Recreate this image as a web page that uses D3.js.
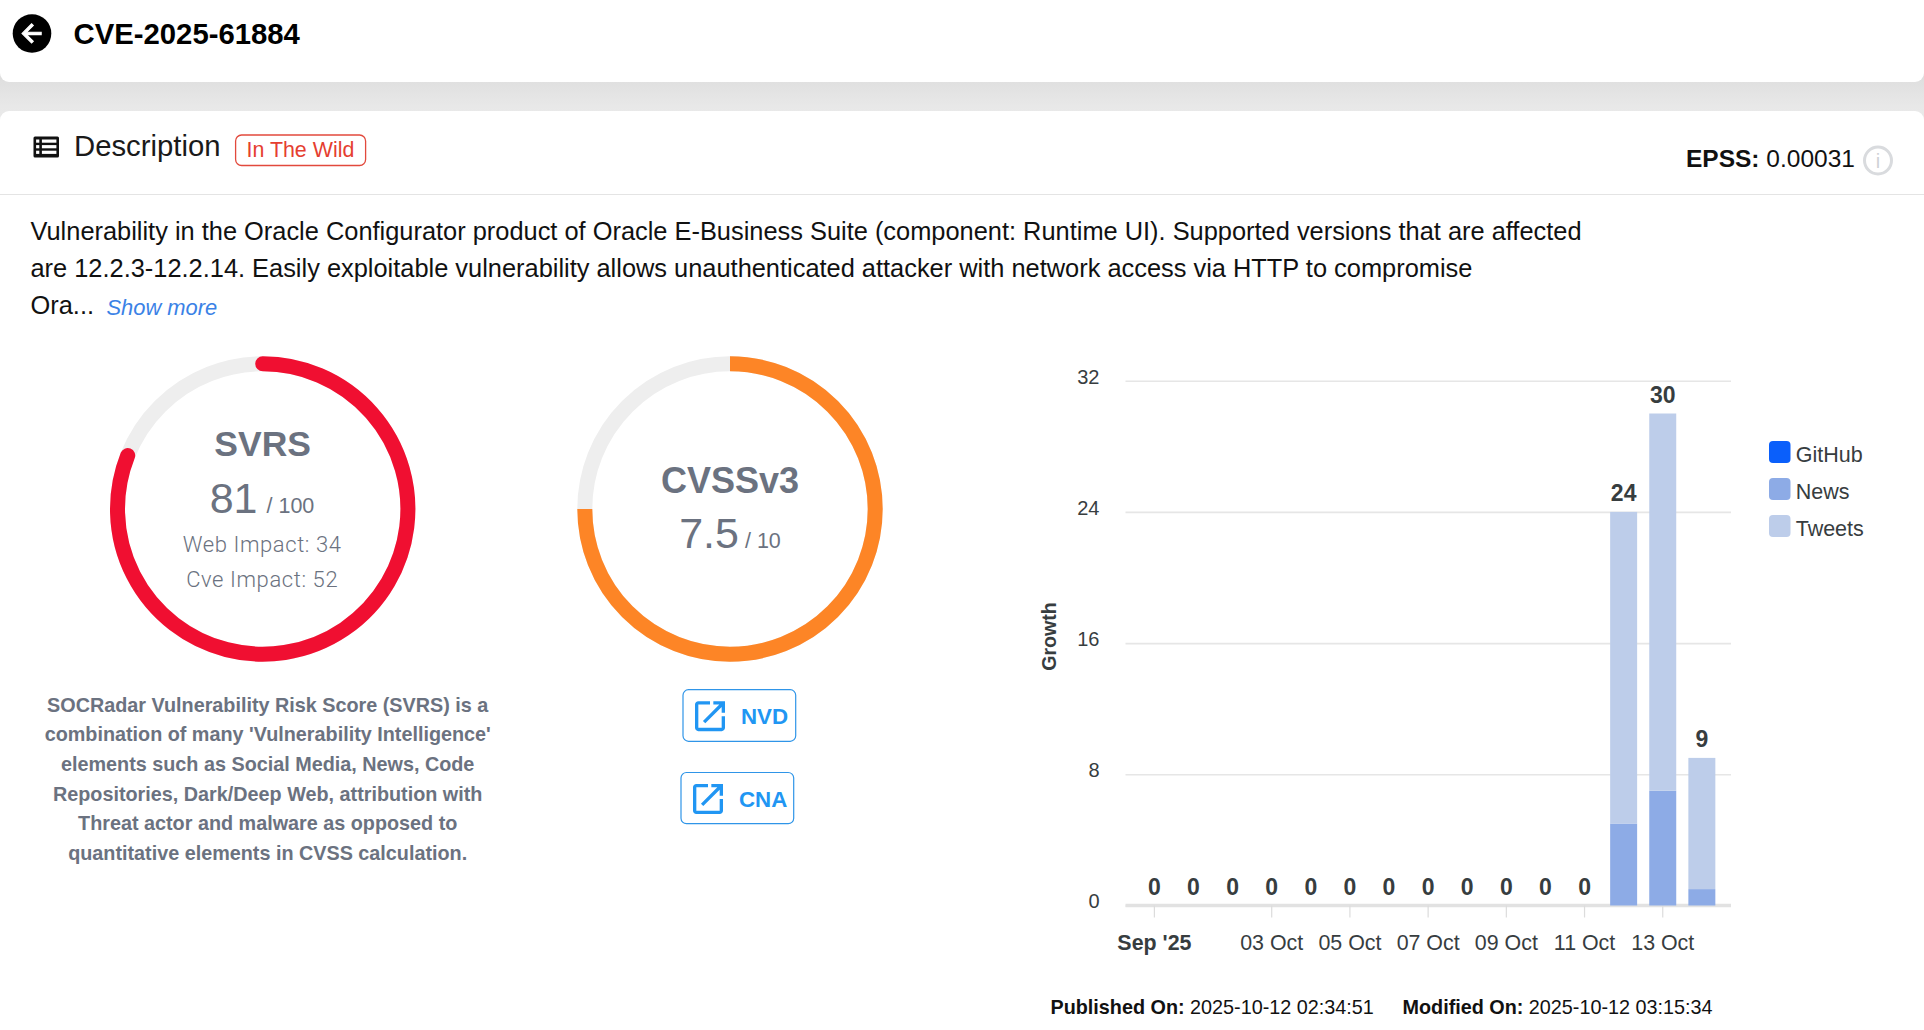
<!DOCTYPE html>
<html lang="en">
<head>
<meta charset="utf-8">
<title>CVE-2025-61884</title>
<script src="https://d3js.org/d3.v7.min.js"></script>
<style>
    body { margin: 0; background: #fff; }
    svg { display: block; font-family: "Liberation Sans", Arial, sans-serif; }
    .axis-y path { display: none; }
    .axis-y line { stroke: #e6e6e6; stroke-width: 1.6; }
    .axis-y text { font-size: 20px; fill: #373d3f; }
    .axis-x path { stroke: #e2e2e2; stroke-width: 3.4; }
    .axis-x line { stroke: #dcdcdc; stroke-width: 1.2; }
    .axis-x text { font-size: 21.4px; fill: #373d3f; }
</style>
</head>
<body>
<svg id="page" width="1924" height="1030"></svg>
<script>
    // chart values
    const categories = ["Sep '25", "01 Oct", "02 Oct", "03 Oct", "04 Oct", "05 Oct", "06 Oct", "07 Oct",
        "08 Oct", "09 Oct", "10 Oct", "11 Oct", "12 Oct", "13 Oct", "14 Oct"];
    const tickLabels = ["Sep '25", "03 Oct", "05 Oct", "07 Oct", "09 Oct", "11 Oct", "13 Oct"];
    const seriesNames = ["GitHub", "News", "Tweets"];
    const seriesColors = ["#0a5ffb", "#8dabe6", "#bdcdea"];
    const githubValues = [0, 0, 0, 0, 0, 0, 0, 0, 0, 0, 0, 0, 0, 0, 0];
    const newsValues = [0, 0, 0, 0, 0, 0, 0, 0, 0, 0, 0, 0, 5, 7, 1];
    const tweetsValues = [0, 0, 0, 0, 0, 0, 0, 0, 0, 0, 0, 0, 19, 23, 8];
    const yTicks = [0, 8, 16, 24, 32];

    // gauges
    const svrsScore = 81, svrsMax = 100, webImpact = 34, cveImpact = 52;
    const cvssScore = 7.5, cvssMax = 10;

    // texts
    const descriptionLines = [
        "Vulnerability in the Oracle Configurator product of Oracle E-Business Suite (component: Runtime UI). Supported versions that are affected",
        "are 12.2.3-12.2.14. Easily exploitable vulnerability allows unauthenticated attacker with network access via HTTP to compromise",
        "Ora..."
    ];
    const svrsNote = [
        "SOCRadar Vulnerability Risk Score (SVRS) is a",
        "combination of many 'Vulnerability Intelligence'",
        "elements such as Social Media, News, Code",
        "Repositories, Dark/Deep Web, attribution with",
        "Threat actor and malware as opposed to",
        "quantitative elements in CVSS calculation."
    ];

    const svg = d3.select("#page");
    const grey = "#6b7280";

    // page frame
    let grad = svg.append("defs").append("linearGradient")
        .attr("id", "band").attr("x1", 0).attr("x2", 0).attr("y1", 0).attr("y2", 1);
    grad.append("stop").attr("offset", 0).attr("stop-color", "#dcdcdc");
    grad.append("stop").attr("offset", 0.6).attr("stop-color", "#e8e8e8");
    grad.append("stop").attr("offset", 1).attr("stop-color", "#ebebeb");

    svg.append("rect").attr("y", 70).attr("width", 1924).attr("height", 60).attr("fill", "url(#band)");
    svg.append("rect").attr("y", -20).attr("width", 1924).attr("height", 102).attr("rx", 9).attr("fill", "#fff");
    svg.append("rect").attr("y", 111).attr("width", 1924).attr("height", 940).attr("rx", 9).attr("fill", "#fff");
    svg.append("line").attr("x1", 0).attr("x2", 1924).attr("y1", 194.5).attr("y2", 194.5)
        .attr("stroke", "#e4e4e4").attr("stroke-width", 1.2);

    // header
    svg.append("circle").attr("cx", 32).attr("cy", 33.5).attr("r", 19.3).attr("fill", "#000");
    svg.append("path").attr("transform", "translate(17.2,19) scale(1.2)")
        .attr("d", "M20 11H7.83l5.59-5.59L12 4l-8 8 8 8 1.41-1.41L7.83 13H20v-2z")
        .attr("fill", "#fff").attr("stroke", "#fff").attr("stroke-width", 0.9);
    svg.append("text").attr("x", 73.5).attr("y", 43.5).attr("font-size", 29.3).attr("font-weight", 700)
        .attr("fill", "#000").text("CVE-2025-61884");

    // description head
    let listIcon = svg.append("g").attr("transform", "translate(33.5,136.5)");
    listIcon.append("rect").attr("width", 25.5).attr("height", 21).attr("rx", 1.5).attr("fill", "#111");
    d3.range(3).forEach(i => {
        listIcon.append("rect").attr("x", 2.6).attr("y", 3 + i * 5.6).attr("width", 3.2).attr("height", 3.2).attr("fill", "#fff");
        listIcon.append("rect").attr("x", 8.4).attr("y", 3 + i * 5.6).attr("width", 14.5).attr("height", 3.2).attr("fill", "#fff");
    });
    svg.append("text").attr("x", 74).attr("y", 156).attr("font-size", 29.3).attr("fill", "#1a1a1a").text("Description");
    svg.append("rect").attr("x", 235.6).attr("y", 135).attr("width", 130).attr("height", 30.5).attr("rx", 6)
        .attr("fill", "none").attr("stroke", "#e2493c").attr("stroke-width", 1.3);
    svg.append("text").attr("x", 246.5).attr("y", 156.5).attr("font-size", 21.4).attr("fill", "#e53e30").text("In The Wild");

    let epss = svg.append("text").attr("x", 1686).attr("y", 167).attr("font-size", 24.5).attr("fill", "#111");
    epss.append("tspan").attr("font-weight", 700).text("EPSS: ");
    epss.append("tspan").text("0.00031");
    svg.append("circle").attr("cx", 1878).attr("cy", 160.5).attr("r", 13.5)
        .attr("fill", "none").attr("stroke", "#d9dbde").attr("stroke-width", 3);
    svg.append("text").attr("x", 1878).attr("y", 168).attr("text-anchor", "middle").attr("font-size", 20)
        .attr("font-weight", 300).attr("fill", "#cfd2d6").text("i");

    // description body
    svg.selectAll("text.desc").data(descriptionLines).enter().append("text")
        .attr("class", "desc").attr("x", 30.5).attr("y", (d, i) => 240 + i * 37.2)
        .attr("font-size", 25.4).attr("fill", "#111").text(d => d);
    svg.append("text").attr("x", 106.5).attr("y", 315).attr("font-size", 21.9).attr("font-style", "italic")
        .attr("fill", "#3b82e6").text("Show more");

    // gauges
    const gaugeY = 509;
    function drawGauge(cx, value, max, color, cap) {
        let angle = d3.scaleLinear().domain([0, max]).range([-Math.PI / 2, Math.PI * 1.5]);
        let radius = 145.2;
        let g = svg.append("g").attr("transform", `translate(${cx},${gaugeY})`);
        g.append("circle").attr("r", radius).attr("fill", "none").attr("stroke", "#eeeeee").attr("stroke-width", 15);
        let p = d3.path();
        p.arc(0, 0, radius, angle(0), angle(value));
        g.append("path").attr("d", p.toString()).attr("fill", "none").attr("stroke", color)
            .attr("stroke-width", 15).attr("stroke-linecap", cap);
    }
    drawGauge(262.7, svrsScore, svrsMax, "#f00f31", "round");
    drawGauge(730, cvssScore, cvssMax, "#fd8526", "butt");

    function gaugeText(cx, y, size, weight, txt) {
        return svg.append("text").attr("x", cx).attr("y", y).attr("text-anchor", "middle")
            .attr("font-size", size).attr("font-weight", weight).attr("fill", grey).text(txt);
    }
    gaugeText(262.7, 456, 35.5, 700, "SVRS");
    let svrsVal = gaugeText(262, 513, 43, 400, svrsScore);
    svrsVal.append("tspan").attr("font-size", 21.5).attr("dx", 9).text("/ " + svrsMax);
    gaugeText(262.2, 552, 22, 300, "Web Impact: " + webImpact).attr("font-family", "Roboto").attr("letter-spacing", 0.6);
    gaugeText(262.2, 587, 22, 300, "Cve Impact: " + cveImpact).attr("font-family", "Roboto").attr("letter-spacing", 0.6);

    gaugeText(730, 492.5, 36, 700, "CVSSv3");
    let cvssVal = gaugeText(730, 548, 43, 400, cvssScore);
    cvssVal.append("tspan").attr("font-size", 21.5).attr("dx", 6).text("/ " + cvssMax);

    svg.selectAll("text.note").data(svrsNote).enter().append("text")
        .attr("class", "note").attr("x", 267.7).attr("y", (d, i) => 711.5 + i * 29.7)
        .attr("text-anchor", "middle").attr("font-size", 19.8).attr("font-weight", 700).attr("fill", grey).text(d => d);

    // link buttons
    function drawButton(x, y, w, h, label) {
        let g = svg.append("g").attr("transform", `translate(${x},${y})`);
        g.append("rect").attr("width", w).attr("height", h).attr("rx", 5.5)
            .attr("fill", "#fff").attr("stroke", "#2f95e8").attr("stroke-width", 1.2);
        g.append("path").attr("transform", "translate(7,6.5) scale(1.667)")
            .attr("d", "M19 19H5V5h7V3H5c-1.11 0-2 .9-2 2v14c0 1.1.89 2 2 2h14c1.1 0 2-.9 2-2v-7h-2v7zM14 3v2h3.59l-9.83 9.83 1.41 1.41L19 6.41V10h2V3h-7z")
            .attr("fill", "#2196f3");
        g.append("text").attr("x", 58).attr("y", 34).attr("font-size", 22.3).attr("font-weight", 700)
            .attr("fill", "#2196f3").text(label);
    }
    drawButton(683, 689.7, 112.7, 51.6, "NVD");
    drawButton(681, 772.5, 112.7, 51.2, "CNA");

    // stacked bar chart
    let margin = { left: 1125.5, right: 1731, top: 380.7, bottom: 905.5 };

    let x = d3.scaleBand().domain(categories).range([1134.85, 1721.4]).paddingInner(0.31).paddingOuter(0.155);
    let y = d3.scaleLinear().domain([0, 32]).range([margin.bottom, margin.top]);
    let color = d3.scaleOrdinal().domain(seriesNames).range(seriesColors);

    let yAxis = svg.append("g").attr("class", "axis-y").attr("transform", `translate(${margin.left},0)`)
        .call(d3.axisLeft(y).tickValues(yTicks).tickSizeInner(-(margin.right - margin.left)).tickSizeOuter(0).tickPadding(26));
    yAxis.selectAll("text").attr("dy", "0.12em");

    let xAxis = svg.append("g").attr("class", "axis-x").attr("transform", `translate(0,${margin.bottom})`)
        .call(d3.axisBottom(x).tickValues(tickLabels).tickSizeInner(12).tickSizeOuter(0).tickPadding(17));
    xAxis.select("path").attr("d", `M${margin.left},0H${margin.right}`);
    xAxis.selectAll("text").filter(d => d === categories[0]).attr("font-weight", 700);

    let rows = categories.map((c, i) => ({
        category: c, GitHub: githubValues[i], News: newsValues[i], Tweets: tweetsValues[i]
    }));
    let stacked = d3.stack().keys(seriesNames)(rows);

    svg.append("g").selectAll("g").data(stacked).enter().append("g")
        .attr("fill", d => color(d.key))
        .selectAll("rect").data(d => d).enter().append("rect")
        .attr("x", d => x(d.data.category))
        .attr("width", x.bandwidth())
        .attr("y", d => y(d[1]))
        .attr("height", d => y(d[0]) - y(d[1]));

    svg.append("g").selectAll("text").data(rows).enter().append("text")
        .attr("x", d => x(d.category) + x.bandwidth() / 2)
        .attr("y", d => y(d.GitHub + d.News + d.Tweets) - 10.5)
        .attr("text-anchor", "middle").attr("font-size", 23).attr("font-weight", 700).attr("fill", "#373d3f")
        .text(d => d.GitHub + d.News + d.Tweets);

    svg.append("text").attr("transform", "translate(1056,636.5) rotate(-90)").attr("text-anchor", "middle")
        .attr("font-size", 19.6).attr("font-weight", 700).attr("fill", "#373d3f").text("Growth");

    // legend
    let legend = svg.append("g").selectAll("g").data(seriesNames).enter().append("g")
        .attr("transform", (d, i) => `translate(1769,${441 + i * 37})`);
    legend.append("rect").attr("width", 21.5).attr("height", 22).attr("rx", 4).attr("fill", d => color(d));
    legend.append("text").attr("x", 26.7).attr("y", 20.5).attr("font-size", 21.5).attr("fill", "#373d3f").text(d => d);

    // footer dates
    function footer(xPos, label, value) {
        let t = svg.append("text").attr("x", xPos).attr("y", 1014).attr("font-size", 19.8).attr("fill", "#111");
        t.append("tspan").attr("font-weight", 700).text(label + " ");
        t.append("tspan").text(value);
    }
    footer(1050.5, "Published On:", "2025-10-12 02:34:51");
    footer(1402.5, "Modified On:", "2025-10-12 03:15:34");
</script>
</body>
</html>
